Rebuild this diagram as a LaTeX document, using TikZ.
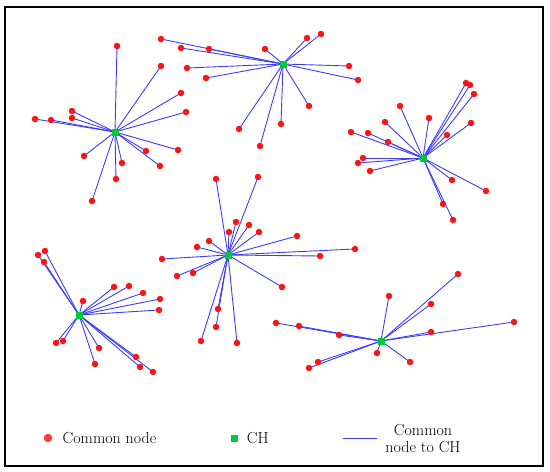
\documentclass[tikz,border=0pt]{standalone}
\usepackage{tikz}
\usetikzlibrary{positioning}
\definecolor{dotred}{RGB}{250,20,20}
\definecolor{keyred}{RGB}{250,60,60}
\definecolor{headgreen}{RGB}{0,200,60}
\definecolor{linkblue}{RGB}{60,60,250}
\pgfdeclarelayer{background}
\pgfsetlayers{background,main}
\begin{document}
\begin{tikzpicture}[x=1pt,y=-1pt,
			cn/.style={circle,fill=dotred,inner sep=0pt,minimum size=6.5pt},
			ch/.style={rectangle,fill=headgreen,inner sep=0pt,minimum size=7pt},
			link/.style={draw=linkblue,line width=0.9pt},
			lbl/.style={font=\fontsize{16}{17}\selectfont,inner sep=0pt}]
			\useasboundingbox (0,0) rectangle (550,472);
			\draw[line width=2pt] (5,7) rectangle (543,466);
			% cluster 1
			\node[ch] (ch1) at (115,132) {};
			\node[cn] (c1-1) at (117,46) {};
			\node[cn] (c1-2) at (161,66) {};
			\node[cn] (c1-3) at (181,93) {};
			\node[cn] (c1-4) at (186,112) {};
			\node[cn] (c1-5) at (178,150) {};
			\node[cn] (c1-6) at (160,166) {};
			\node[cn] (c1-7) at (146,151) {};
			\node[cn] (c1-8) at (122,163) {};
			\node[cn] (c1-9) at (116,179) {};
			\node[cn] (c1-10) at (92,201) {};
			\node[cn] (c1-11) at (84,156) {};
			\node[cn] (c1-12) at (35,119) {};
			\node[cn] (c1-13) at (51,120) {};
			\node[cn] (c1-14) at (72,111) {};
			\node[cn] (c1-15) at (72,118) {};
			% cluster 2
			\node[ch] (ch2) at (283,64) {};
			\node[cn] (c2-1) at (161,39) {};
			\node[cn] (c2-2) at (181,48) {};
			\node[cn] (c2-3) at (209,49) {};
			\node[cn] (c2-4) at (265,49) {};
			\node[cn] (c2-5) at (307,38) {};
			\node[cn] (c2-6) at (321,34) {};
			\node[cn] (c2-7) at (187,68) {};
			\node[cn] (c2-8) at (206,78) {};
			\node[cn] (c2-9) at (349,66) {};
			\node[cn] (c2-10) at (358,80) {};
			\node[cn] (c2-11) at (309,106) {};
			\node[cn] (c2-12) at (281,124) {};
			\node[cn] (c2-13) at (239,129) {};
			\node[cn] (c2-14) at (260,146) {};
			% cluster 3
			\node[ch] (ch3) at (423,158) {};
			\node[cn] (c3-1) at (466,83) {};
			\node[cn] (c3-2) at (470,85) {};
			\node[cn] (c3-3) at (474,94) {};
			\node[cn] (c3-4) at (471,123) {};
			\node[cn] (c3-5) at (447,135) {};
			\node[cn] (c3-6) at (429,118) {};
			\node[cn] (c3-7) at (400,106) {};
			\node[cn] (c3-8) at (385,122) {};
			\node[cn] (c3-9) at (351,132) {};
			\node[cn] (c3-10) at (368,133) {};
			\node[cn] (c3-11) at (388,142) {};
			\node[cn] (c3-12) at (363,158) {};
			\node[cn] (c3-13) at (358,163) {};
			\node[cn] (c3-14) at (370,171) {};
			\node[cn] (c3-15) at (452,180) {};
			\node[cn] (c3-16) at (486,191) {};
			\node[cn] (c3-17) at (443,204) {};
			\node[cn] (c3-18) at (453,220) {};
			% cluster 4
			\node[ch] (ch4) at (228,255) {};
			\node[cn] (c4-1) at (216,179) {};
			\node[cn] (c4-2) at (258,177) {};
			\node[cn] (c4-3) at (236,222) {};
			\node[cn] (c4-4) at (249,225) {};
			\node[cn] (c4-5) at (229,232) {};
			\node[cn] (c4-6) at (259,232) {};
			\node[cn] (c4-7) at (209,241) {};
			\node[cn] (c4-8) at (197,247) {};
			\node[cn] (c4-9) at (162,259) {};
			\node[cn] (c4-10) at (177,276) {};
			\node[cn] (c4-11) at (193,273) {};
			\node[cn] (c4-12) at (297,236) {};
			\node[cn] (c4-13) at (355,249) {};
			\node[cn] (c4-14) at (320,256) {};
			\node[cn] (c4-15) at (282,287) {};
			\node[cn] (c4-16) at (218,309) {};
			\node[cn] (c4-17) at (216,327) {};
			\node[cn] (c4-18) at (201,341) {};
			\node[cn] (c4-19) at (237,343) {};
			% cluster 5
			\node[ch] (ch5) at (79,315) {};
			\node[cn] (c5-1) at (38,255) {};
			\node[cn] (c5-2) at (45,251) {};
			\node[cn] (c5-3) at (44,262) {};
			\node[cn] (c5-4) at (83,301) {};
			\node[cn] (c5-5) at (114,287) {};
			\node[cn] (c5-6) at (129,286) {};
			\node[cn] (c5-7) at (143,293) {};
			\node[cn] (c5-8) at (160,299) {};
			\node[cn] (c5-9) at (159,310) {};
			\node[cn] (c5-10) at (56,343) {};
			\node[cn] (c5-11) at (63,341) {};
			\node[cn] (c5-12) at (99,348) {};
			\node[cn] (c5-13) at (95,364) {};
			\node[cn] (c5-14) at (136,357) {};
			\node[cn] (c5-15) at (140,367) {};
			\node[cn] (c5-16) at (153,372) {};
			% cluster 6
			\node[ch] (ch6) at (381,341) {};
			\node[cn] (c6-1) at (389,296) {};
			\node[cn] (c6-2) at (458,274) {};
			\node[cn] (c6-3) at (431,304) {};
			\node[cn] (c6-4) at (431,332) {};
			\node[cn] (c6-5) at (514,322) {};
			\node[cn] (c6-6) at (276,323) {};
			\node[cn] (c6-7) at (299,326) {};
			\node[cn] (c6-8) at (339,335) {};
			\node[cn] (c6-9) at (377,353) {};
			\node[cn] (c6-10) at (410,362) {};
			\node[cn] (c6-11) at (318,362) {};
			\node[cn] (c6-12) at (309,368) {};
			% connectors under the dots
			\begin{pgfonlayer}{background}
				\draw[link] (ch1.center) -- (c1-1.center);
				\draw[link] (ch1.center) -- (c1-2.center);
				\draw[link] (ch1.center) -- (c1-3.center);
				\draw[link] (ch1.center) -- (c1-4.center);
				\draw[link] (ch1.center) -- (c1-5.center);
				\draw[link] (ch1.center) -- (c1-6.center);
				\draw[link] (ch1.center) -- (c1-7.center);
				\draw[link] (ch1.center) -- (c1-8.center);
				\draw[link] (ch1.center) -- (c1-9.center);
				\draw[link] (ch1.center) -- (c1-10.center);
				\draw[link] (ch1.center) -- (c1-11.center);
				\draw[link] (ch1.center) -- (c1-12.center);
				\draw[link] (ch1.center) -- (c1-13.center);
				\draw[link] (ch1.center) -- (c1-14.center);
				\draw[link] (ch1.center) -- (c1-15.center);
				\draw[link] (ch2.center) -- (c2-1.center);
				\draw[link] (ch2.center) -- (c2-2.center);
				\draw[link] (ch2.center) -- (c2-3.center);
				\draw[link] (ch2.center) -- (c2-4.center);
				\draw[link] (ch2.center) -- (c2-5.center);
				\draw[link] (ch2.center) -- (c2-6.center);
				\draw[link] (ch2.center) -- (c2-7.center);
				\draw[link] (ch2.center) -- (c2-8.center);
				\draw[link] (ch2.center) -- (c2-9.center);
				\draw[link] (ch2.center) -- (c2-10.center);
				\draw[link] (ch2.center) -- (c2-11.center);
				\draw[link] (ch2.center) -- (c2-12.center);
				\draw[link] (ch2.center) -- (c2-13.center);
				\draw[link] (ch2.center) -- (c2-14.center);
				\draw[link] (ch3.center) -- (c3-1.center);
				\draw[link] (ch3.center) -- (c3-2.center);
				\draw[link] (ch3.center) -- (c3-3.center);
				\draw[link] (ch3.center) -- (c3-4.center);
				\draw[link] (ch3.center) -- (c3-5.center);
				\draw[link] (ch3.center) -- (c3-6.center);
				\draw[link] (ch3.center) -- (c3-7.center);
				\draw[link] (ch3.center) -- (c3-8.center);
				\draw[link] (ch3.center) -- (c3-9.center);
				\draw[link] (ch3.center) -- (c3-10.center);
				\draw[link] (ch3.center) -- (c3-11.center);
				\draw[link] (ch3.center) -- (c3-12.center);
				\draw[link] (ch3.center) -- (c3-13.center);
				\draw[link] (ch3.center) -- (c3-14.center);
				\draw[link] (ch3.center) -- (c3-15.center);
				\draw[link] (ch3.center) -- (c3-16.center);
				\draw[link] (ch3.center) -- (c3-17.center);
				\draw[link] (ch3.center) -- (c3-18.center);
				\draw[link] (ch4.center) -- (c4-1.center);
				\draw[link] (ch4.center) -- (c4-2.center);
				\draw[link] (ch4.center) -- (c4-3.center);
				\draw[link] (ch4.center) -- (c4-4.center);
				\draw[link] (ch4.center) -- (c4-5.center);
				\draw[link] (ch4.center) -- (c4-6.center);
				\draw[link] (ch4.center) -- (c4-7.center);
				\draw[link] (ch4.center) -- (c4-8.center);
				\draw[link] (ch4.center) -- (c4-9.center);
				\draw[link] (ch4.center) -- (c4-10.center);
				\draw[link] (ch4.center) -- (c4-11.center);
				\draw[link] (ch4.center) -- (c4-12.center);
				\draw[link] (ch4.center) -- (c4-13.center);
				\draw[link] (ch4.center) -- (c4-14.center);
				\draw[link] (ch4.center) -- (c4-15.center);
				\draw[link] (ch4.center) -- (c4-16.center);
				\draw[link] (ch4.center) -- (c4-17.center);
				\draw[link] (ch4.center) -- (c4-18.center);
				\draw[link] (ch4.center) -- (c4-19.center);
				\draw[link] (ch5.center) -- (c5-1.center);
				\draw[link] (ch5.center) -- (c5-2.center);
				\draw[link] (ch5.center) -- (c5-3.center);
				\draw[link] (ch5.center) -- (c5-4.center);
				\draw[link] (ch5.center) -- (c5-5.center);
				\draw[link] (ch5.center) -- (c5-6.center);
				\draw[link] (ch5.center) -- (c5-7.center);
				\draw[link] (ch5.center) -- (c5-8.center);
				\draw[link] (ch5.center) -- (c5-9.center);
				\draw[link] (ch5.center) -- (c5-10.center);
				\draw[link] (ch5.center) -- (c5-11.center);
				\draw[link] (ch5.center) -- (c5-12.center);
				\draw[link] (ch5.center) -- (c5-13.center);
				\draw[link] (ch5.center) -- (c5-14.center);
				\draw[link] (ch5.center) -- (c5-15.center);
				\draw[link] (ch5.center) -- (c5-16.center);
				\draw[link] (ch6.center) -- (c6-1.center);
				\draw[link] (ch6.center) -- (c6-2.center);
				\draw[link] (ch6.center) -- (c6-3.center);
				\draw[link] (ch6.center) -- (c6-4.center);
				\draw[link] (ch6.center) -- (c6-5.center);
				\draw[link] (ch6.center) -- (c6-6.center);
				\draw[link] (ch6.center) -- (c6-7.center);
				\draw[link] (ch6.center) -- (c6-8.center);
				\draw[link] (ch6.center) -- (c6-9.center);
				\draw[link] (ch6.center) -- (c6-10.center);
				\draw[link] (ch6.center) -- (c6-11.center);
				\draw[link] (ch6.center) -- (c6-12.center);
			\end{pgfonlayer}
			% legend
			\node[cn,fill=keyred,minimum size=8.5pt] (keycn) at (48,438) {};
			\node[lbl,anchor=west,right=10pt of keycn] (keycntext) {Common node};
			\node[ch] (keych) at (234,438) {};
			\node[lbl,anchor=west,right=9pt of keych] (keychtext) {CH};
			\coordinate (keyl1) at (343,438);
			\coordinate (keyl2) at (377,438);
			\draw[link] (keyl1) -- (keyl2);
			\node[lbl,align=center] (keyltext) at (423,439) {Common\\node to CH};
		\end{tikzpicture}
\end{document}
